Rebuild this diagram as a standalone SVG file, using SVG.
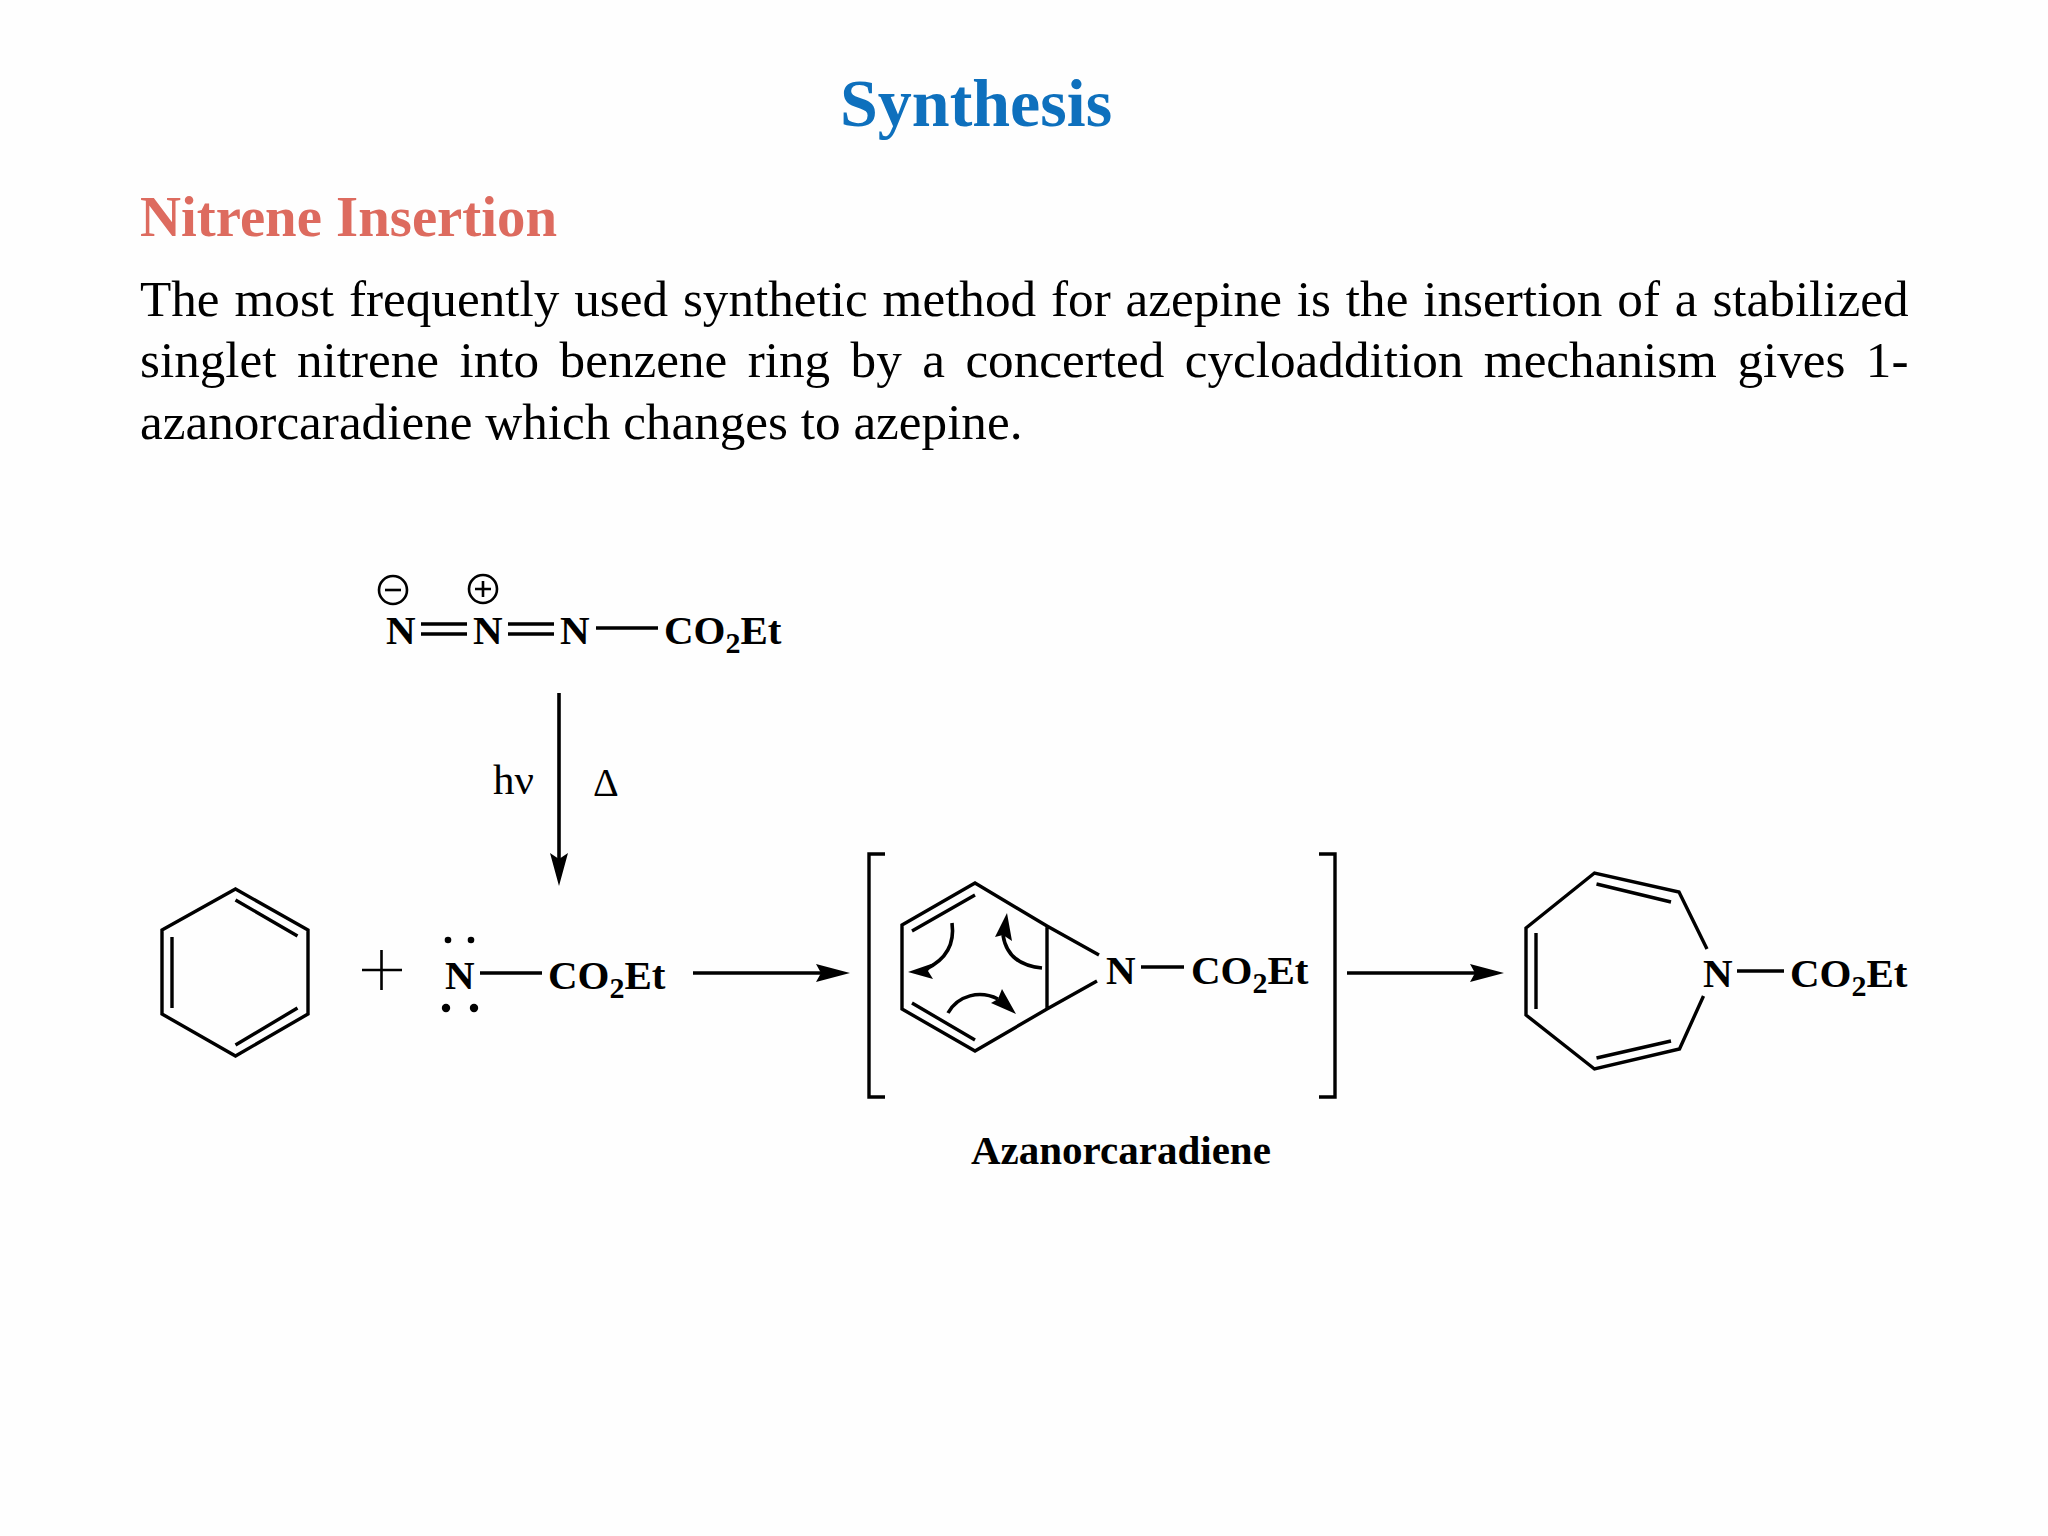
<svg xmlns="http://www.w3.org/2000/svg" width="2048" height="1536" viewBox="0 0 2048 1536">
<style>
text{font-family:"Liberation Serif","Times New Roman",serif;fill:#000}
.b{font-weight:bold;font-size:41px}
.body{font-size:51.2px}
.sub{font-size:30px}
.bond{stroke:#000;stroke-width:3.4;fill:none;stroke-linecap:butt;stroke-linejoin:miter}
.thin{stroke:#000;stroke-width:2.6;fill:none}
.arrow{stroke:#000;stroke-width:3.6;fill:none}
.head{fill:#000}
</style>
<rect width="2048" height="1536" fill="#fefefe"/>
<g id="heading">
<text x="840" y="126" font-size="68" font-weight="bold" style="fill:#0e70bd">Synthesis</text>
<text x="140" y="236" font-size="56.800" font-weight="bold" style="fill:#dd6b5f">Nitrene Insertion</text>
</g>
<g id="paragraph">
<text class="body" x="140" y="316" word-spacing="2.100">The most frequently used synthetic method for azepine is the insertion of a stabilized</text>
<text class="body" x="140" y="377" word-spacing="7.650">singlet nitrene into benzene ring by a concerted cycloaddition mechanism gives 1-</text>
<text class="body" x="140" y="439">azanorcaradiene which changes to azepine.</text>
</g>
<g id="azide">
<circle class="thin" cx="393" cy="590" r="14"/><path class="thin" d="M385,590H401"/>
<circle class="thin" cx="483" cy="589" r="14"/><path class="thin" d="M475,589H491M483,581V597"/>
<text class="b" x="386" y="644">N</text><text class="b" x="473" y="644">N</text><text class="b" x="560" y="644">N</text>
<path class="bond" d="M421,624H467M421,634H467M508,624H554M508,634H554M596,628H658"/>
<text class="b" x="664" y="644">CO<tspan class="sub" dy="9">2</tspan><tspan dy="-9">Et</tspan></text>
</g>
<g id="conditions">
<text x="493" y="794" font-size="43">hν</text>
<text x="593" y="796" font-size="40">Δ</text>
</g>
<g id="benzene">
<path class="bond" d="M235.500,889L308,930V1014L235.500,1056L162,1014V930Z"/>
<path class="bond" d="M235.500,900L297.500,936M172,937V1008M235.500,1045L297.500,1008"/>
</g>
<g id="plus"><path class="thin" d="M362,970H402M381.500,950V990"/></g>
<g id="nitrene">
<text class="b" x="445" y="989">N</text>
<circle cx="448" cy="940" r="3.300"/><circle cx="471" cy="940" r="3.300"/>
<circle cx="446" cy="1008" r="4.200"/><circle cx="474" cy="1008" r="4.200"/>
<path class="bond" d="M480,973H542"/>
<text class="b" x="548" y="989">CO<tspan class="sub" dy="9">2</tspan><tspan dy="-9">Et</tspan></text>
</g>
<g id="azanorcaradiene">
<path class="bond" d="M885,854H869V1097H885M1319,854H1335V1097H1319"/>
<path class="bond" d="M975,883L902,925V1009L975,1051L1047,1009V926ZM1047,926L1099,955M1047,1009L1097,981M1047,926V1009"/>
<path class="bond" d="M912,931L975,895M912,1003L975,1040"/>
<text class="b" x="1106" y="984">N</text>
<path class="bond" d="M1141,967H1184"/>
<text class="b" x="1191" y="984">CO<tspan class="sub" dy="9">2</tspan><tspan dy="-9">Et</tspan></text>
<path class="arrow" d="M952,923C955,945 945,960 926,969"/>
<path class="head" d="M908,972L934,963L928,971L933,979Z"/>
<path class="arrow" d="M1042,968C1020,966 1006,955 1003,935"/>
<path class="head" d="M1007,913L995,937L1003,935L1012,941Z"/>
<path class="arrow" d="M948,1013C958,995 980,990 998,999"/>
<path class="head" d="M1016,1014L991,1003L998,999L1002,989Z"/>
<text class="b" x="971" y="1164">Azanorcaradiene</text>
</g>
<g id="azepine">
<path class="bond" d="M1707,949L1679,892L1594.500,873L1526,928V1015L1594.500,1069L1679.500,1049L1703.500,996"/>
<path class="bond" d="M1536,933V1009M1596.500,884L1671,902M1596.500,1058L1671,1041"/>
<text class="b" x="1703" y="987">N</text>
<path class="bond" d="M1737,971H1784"/>
<text class="b" x="1790" y="987">CO<tspan class="sub" dy="9">2</tspan><tspan dy="-9">Et</tspan></text>
</g>
<g id="connectors">
<path class="arrow" d="M559,693V860"/><path class="head" d="M559,886L550,853L559,859L568,853Z"/>
<path class="arrow" d="M693,973H822"/><path class="head" d="M850,973L816,964L821,973L816,982Z"/>
<path class="arrow" d="M1347,973H1478"/><path class="head" d="M1504,973L1470,964L1475,973L1470,982Z"/>
</g>
</svg>
